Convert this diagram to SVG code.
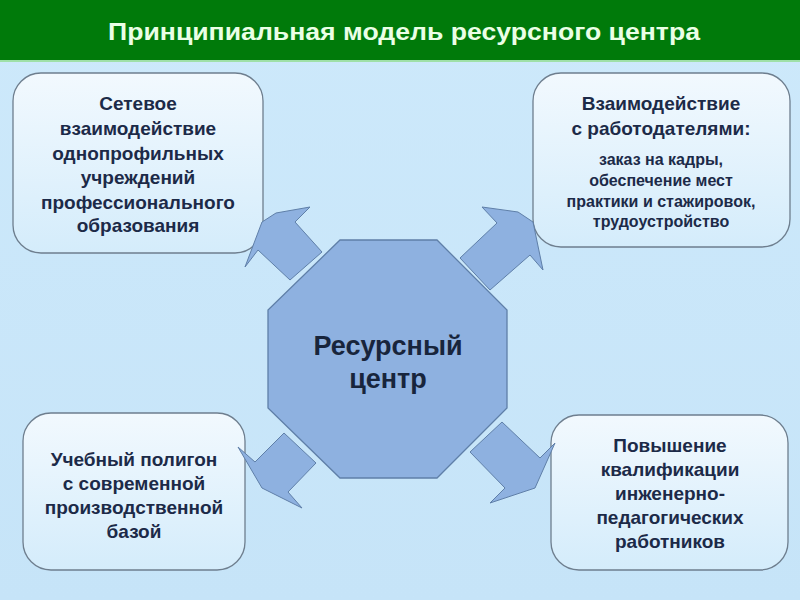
<svg xmlns="http://www.w3.org/2000/svg" width="800" height="600" viewBox="0 0 800 600">
<defs>
<linearGradient id="bg" x1="0" y1="0" x2="0" y2="1"><stop offset="0" stop-color="#cde9fb"/><stop offset="1" stop-color="#c6e4f8"/></linearGradient>
<linearGradient id="bx" x1="0" y1="0" x2="0" y2="1"><stop offset="0" stop-color="#f2f9fe"/><stop offset="1" stop-color="#d4ecfb"/></linearGradient>
<style>
.box{fill:url(#bx);stroke:#6e7e8e;stroke-width:1.3}
.arr{fill:#8eb1e0;stroke:#5f7fa8;stroke-width:1}
.t{font-family:"Liberation Sans",Arial,sans-serif;font-weight:bold;fill:#1c2a48;text-anchor:middle}
.b{font-size:19px}
.s{font-size:16px}
</style>
</defs>
<rect width="800" height="600" fill="url(#bg)"/>
<rect width="800" height="60" fill="#007a0a"/>
<rect y="60" width="800" height="2" fill="#9fe0a8"/>
<text x="404" y="40" class="t" style="fill:#eaffe6;font-size:24px" textLength="592" lengthAdjust="spacingAndGlyphs">Принципиальная модель ресурсного центра</text>
<g id="box-tl"><rect class="box" x="13" y="73" width="250" height="180" rx="28"/>
<text class="t b" x="138"><tspan x="138" y="110">Сетевое</tspan><tspan x="138" y="135">взаимодействие</tspan><tspan x="138" y="160">однопрофильных</tspan><tspan x="138" y="184">учреждений</tspan><tspan x="138" y="209">профессионального</tspan><tspan x="138" y="232">образования</tspan></text></g>
<g id="box-tr"><rect class="box" x="533" y="73" width="257" height="174" rx="28"/>
<text class="t b"><tspan x="661" y="110">Взаимодействие</tspan><tspan x="661" y="135">с работодателями:</tspan></text>
<text class="t s"><tspan x="661" y="165">заказ на кадры,</tspan><tspan x="661" y="186">обеспечение мест</tspan><tspan x="661" y="207">практики и стажировок,</tspan><tspan x="661" y="227">трудоустройство</tspan></text></g>
<g id="box-bl"><rect class="box" x="23" y="413" width="222" height="157" rx="28"/>
<text class="t b"><tspan x="134" y="466">Учебный полигон</tspan><tspan x="134" y="490">с современной</tspan><tspan x="134" y="514">производственной</tspan><tspan x="134" y="538">базой</tspan></text></g>
<g id="box-br"><rect class="box" x="551" y="415" width="237" height="155" rx="28"/>
<text class="t b"><tspan x="670" y="452">Повышение</tspan><tspan x="670" y="476">квалификации</tspan><tspan x="670" y="500">инженерно-</tspan><tspan x="670" y="524">педагогических</tspan><tspan x="670" y="548">работников</tspan></text></g>
<g id="connectors">
<polygon class="arr" points="310,207 295,222 322,252 290,280 258,250 245,267 262,222 276,213"/>
<polygon class="arr" points="482,207 497,223 460,258 490,290 530,255 543,270 533,222 518,212"/>
<polygon class="arr" points="284,433 316,463 288,492 302,508 262,488 238,447 255,462"/>
<polygon class="arr" points="470,452 502,422 540,458 555,443 535,488 490,503 505,488"/>
</g>
<g id="center"><polygon points="340,240 437,240 507,310 507,408 437,478 340,478 268,408 268,310" fill="#8eb1e0" stroke="#5f7fa8" stroke-width="1.3"/>
<text class="t" style="font-size:27px;fill:#18253c"><tspan x="388" y="355">Ресурсный</tspan><tspan x="388" y="388">центр</tspan></text></g>
</svg>
